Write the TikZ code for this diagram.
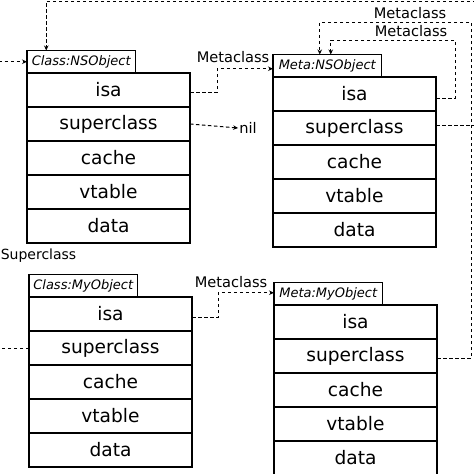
\documentclass[tikz,border=0pt]{standalone}
\usepackage{fontspec}
\setmainfont{DejaVu Sans}
\usetikzlibrary{arrows.meta}
\tikzset{
  row/.style={draw, line width=1.3pt, minimum width=163pt, minimum height=34pt, inner sep=0pt, outer sep=0pt, anchor=north west, font=\fontsize{18.6}{21}\selectfont},
  hdr/.style={draw, line width=1.1pt, minimum width=108.5pt, minimum height=22.5pt, inner sep=0pt, outer sep=0pt, anchor=south west, font=\itshape\fontsize{13}{15}\selectfont},
  lbl/.style={font=\fontsize{14.6}{17}\selectfont, inner sep=1pt},
  conn/.style={line width=1pt, dash pattern=on 3.5pt off 2.5pt, -{Stealth[length=5pt,width=4.5pt]}}
}
\newcommand\objbox[4]{%
  \node[hdr] (#1-h) at (#2,#3) {#4};
  \node[row] (#1-isa) at (#2,#3) {isa};
  \node[row] (#1-sup) at (#1-isa.south west) {superclass};
  \node[row] (#1-cache) at (#1-sup.south west) {cache};
  \node[row] (#1-vt) at (#1-cache.south west) {vtable};
  \node[row] (#1-data) at (#1-vt.south west) {data};
}
\begin{document}
\begin{tikzpicture}[x=1pt,y=-1pt]
\useasboundingbox (0,0) rectangle (474,474);
\clip (0,0) rectangle (474,474);
\objbox{cn}{27}{73}{Class:NSObject}
\objbox{mn}{273}{77}{Meta:NSObject}
\objbox{cm}{29}{297}{Class:MyObject}
\objbox{mm}{274}{305}{Meta:MyObject}

\node[lbl] (lbl1) at (233,57) {Metaclass};
\node[lbl] (lbl2) at (231,282) {Metaclass};
\node[lbl, font=\fontsize{14}{16}\selectfont, inner sep=0pt, anchor=west] (lbl3) at (0.6,256) {Superclass};
\node[lbl] (lbl4) at (410,13) {Metaclass};
\node[lbl] (lbl5) at (411,31) {Metaclass};
\node[lbl] (nil) at (248,128) {nil};

\coordinate (tr) at (478,1);
\coordinate (or) at (471,22);
\coordinate (ir) at (455,40);

\draw[conn] ([yshift=-2pt]cn-isa.east) -- ++(27,0) |- ([yshift=-3pt]mn-h.west);
\draw[conn] (cn-sup.east) -- (nil.west);
\draw[conn] ([yshift=-3pt]cm-isa.east) -- ++(26,0) |- ([yshift=1pt]mm-h.west);
\draw[conn] (cm-sup.west) -- ++(-37,0) |- (cn-h.west);
\draw[conn] ([yshift=3pt]mn-sup.east) -| (tr) -| ([xshift=-35pt]cn-h.north);
\draw[conn] ([yshift=-2pt]mm-sup.east) -| (or) -| ([xshift=-7.5pt]mn-h.north);
\draw[conn] ([yshift=-4pt]mn-isa.east) -| (ir) -| ([xshift=3.5pt]mn-h.north);
\end{tikzpicture}
\end{document}
